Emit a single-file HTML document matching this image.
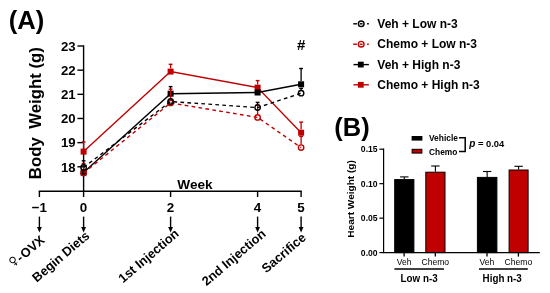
<!DOCTYPE html>
<html><head><meta charset="utf-8"><style>
html,body{margin:0;padding:0;background:#fff;}
svg{display:block;}
text{font-family:'Liberation Sans', sans-serif;fill:#000;}
</style></head><body>
<svg width="550" height="293" viewBox="0 0 550 293">
<rect width="550" height="293" fill="#fff"/>
<text x="26.5" y="28.6" font-size="25.6" font-weight="bold" text-anchor="middle">(A)</text>
<line x1="83.6" y1="45.3" x2="83.6" y2="191.2" stroke="#000" stroke-width="1.4"/>
<line x1="77.4" y1="166.8" x2="83.6" y2="166.8" stroke="#000" stroke-width="1.4"/>
<text x="75.6" y="171.5" font-size="13.2" font-weight="bold" text-anchor="end">18</text>
<line x1="77.4" y1="142.64" x2="83.6" y2="142.64" stroke="#000" stroke-width="1.4"/>
<text x="75.6" y="147.34" font-size="13.2" font-weight="bold" text-anchor="end">19</text>
<line x1="77.4" y1="118.48" x2="83.6" y2="118.48" stroke="#000" stroke-width="1.4"/>
<text x="75.6" y="123.18" font-size="13.2" font-weight="bold" text-anchor="end">20</text>
<line x1="77.4" y1="94.32" x2="83.6" y2="94.32" stroke="#000" stroke-width="1.4"/>
<text x="75.6" y="99.02" font-size="13.2" font-weight="bold" text-anchor="end">21</text>
<line x1="77.4" y1="70.16" x2="83.6" y2="70.16" stroke="#000" stroke-width="1.4"/>
<text x="75.6" y="74.86" font-size="13.2" font-weight="bold" text-anchor="end">22</text>
<line x1="77.4" y1="46.0" x2="83.6" y2="46.0" stroke="#000" stroke-width="1.4"/>
<text x="75.6" y="50.7" font-size="13.2" font-weight="bold" text-anchor="end">23</text>
<text transform="translate(41.2,179.2) rotate(-90)" font-size="16.8" font-weight="bold">Body<tspan dx="3.8"> Weight (g)</tspan></text>
<line x1="38.7" y1="191.2" x2="301.8" y2="191.2" stroke="#000" stroke-width="1.4"/>
<line x1="39.4" y1="191.2" x2="39.4" y2="197.0" stroke="#000" stroke-width="1.4"/>
<text x="39.4" y="211.9" font-size="13.4" font-weight="bold" text-anchor="middle">−1</text>
<line x1="39.4" y1="216.6" x2="39.4" y2="227.9" stroke="#000" stroke-width="1.4"/>
<path d="M37.0,226.9 L41.8,226.9 L39.4,232.6 Z" fill="#000"/>
<line x1="83.6" y1="191.2" x2="83.6" y2="197.0" stroke="#000" stroke-width="1.4"/>
<text x="83.6" y="211.9" font-size="13.4" font-weight="bold" text-anchor="middle">0</text>
<line x1="83.6" y1="216.6" x2="83.6" y2="227.9" stroke="#000" stroke-width="1.4"/>
<path d="M81.2,226.9 L86.0,226.9 L83.6,232.6 Z" fill="#000"/>
<line x1="170.6" y1="191.2" x2="170.6" y2="197.0" stroke="#000" stroke-width="1.4"/>
<text x="170.6" y="211.9" font-size="13.4" font-weight="bold" text-anchor="middle">2</text>
<line x1="170.6" y1="216.6" x2="170.6" y2="227.9" stroke="#000" stroke-width="1.4"/>
<path d="M168.2,226.9 L173.0,226.9 L170.6,232.6 Z" fill="#000"/>
<line x1="257.6" y1="191.2" x2="257.6" y2="197.0" stroke="#000" stroke-width="1.4"/>
<text x="257.6" y="211.9" font-size="13.4" font-weight="bold" text-anchor="middle">4</text>
<line x1="257.6" y1="216.6" x2="257.6" y2="227.9" stroke="#000" stroke-width="1.4"/>
<path d="M255.2,226.9 L260.0,226.9 L257.6,232.6 Z" fill="#000"/>
<line x1="301.1" y1="191.2" x2="301.1" y2="197.0" stroke="#000" stroke-width="1.4"/>
<text x="301.1" y="211.9" font-size="13.4" font-weight="bold" text-anchor="middle">5</text>
<line x1="301.1" y1="216.6" x2="301.1" y2="227.9" stroke="#000" stroke-width="1.4"/>
<path d="M298.7,226.9 L303.5,226.9 L301.1,232.6 Z" fill="#000"/>
<text x="195" y="188.7" font-size="13.6" font-weight="bold" text-anchor="middle">Week</text>
<text transform="translate(45.40,241.50) rotate(-40.5)" font-size="12.8" font-weight="bold" text-anchor="end"><tspan font-family="DejaVu Sans" font-weight="normal" font-size="11.6" dy="-2">♀</tspan><tspan dx="0.6" dy="2">-</tspan><tspan dx="1">OVX</tspan></text>
<text transform="translate(90.40,237.00) rotate(-40.5)" font-size="12.8" font-weight="bold" text-anchor="end">Begin Diets</text>
<text transform="translate(179.80,234.90) rotate(-40.5)" font-size="12.8" font-weight="bold" text-anchor="end">1st Injection</text>
<text transform="translate(266.60,235.10) rotate(-40.5)" font-size="12.8" font-weight="bold" text-anchor="end">2nd Injection</text>
<text transform="translate(306.90,238.80) rotate(-40.5)" font-size="12.8" font-weight="bold" text-anchor="end">Sacrifice</text>
<text x="301.1" y="49.6" font-size="15" font-weight="bold" text-anchor="middle">#</text>
<polyline points="83.60,151.60 170.60,71.60 257.60,87.60 301.10,132.70" fill="none" stroke="#c00000" stroke-width="1.4"/>
<line x1="83.6" y1="148.4" x2="83.6" y2="142.0" stroke="#c00000" stroke-width="1.3"/>
<line x1="81.7" y1="142.0" x2="85.5" y2="142.0" stroke="#c00000" stroke-width="1.4"/>
<rect x="80.6" y="148.6" width="6" height="6" fill="#c00000"/>
<line x1="170.6" y1="68.4" x2="170.6" y2="64.3" stroke="#c00000" stroke-width="1.3"/>
<line x1="168.7" y1="64.3" x2="172.5" y2="64.3" stroke="#c00000" stroke-width="1.4"/>
<rect x="167.6" y="68.6" width="6" height="6" fill="#c00000"/>
<line x1="257.6" y1="84.4" x2="257.6" y2="80.6" stroke="#c00000" stroke-width="1.3"/>
<line x1="255.7" y1="80.6" x2="259.5" y2="80.6" stroke="#c00000" stroke-width="1.4"/>
<rect x="254.6" y="84.6" width="6" height="6" fill="#c00000"/>
<line x1="301.1" y1="129.5" x2="301.1" y2="122.1" stroke="#c00000" stroke-width="1.3"/>
<line x1="299.2" y1="122.1" x2="303.0" y2="122.1" stroke="#c00000" stroke-width="1.4"/>
<rect x="298.1" y="129.7" width="6" height="6" fill="#c00000"/>
<polyline points="83.60,172.60 170.60,93.70 257.60,92.50 301.10,84.30" fill="none" stroke="#000" stroke-width="1.4"/>
<rect x="80.6" y="169.6" width="6" height="6" fill="#000"/>
<line x1="170.6" y1="90.5" x2="170.6" y2="86.6" stroke="#000" stroke-width="1.3"/>
<line x1="168.7" y1="86.6" x2="172.5" y2="86.6" stroke="#000" stroke-width="1.4"/>
<rect x="167.6" y="90.7" width="6" height="6" fill="#000"/>
<rect x="254.6" y="89.5" width="6" height="6" fill="#000"/>
<line x1="301.1" y1="81.1" x2="301.1" y2="68.5" stroke="#000" stroke-width="1.3"/>
<line x1="299.2" y1="68.5" x2="303.0" y2="68.5" stroke="#000" stroke-width="1.4"/>
<rect x="298.1" y="81.3" width="6" height="6" fill="#000"/>
<polyline points="83.60,173.00 170.60,102.90 257.60,117.40 301.10,147.60" fill="none" stroke="#c00000" stroke-width="1.4" stroke-dasharray="3.7,3.3"/>
<line x1="83.6" y1="169.8" x2="83.6" y2="163.6" stroke="#c00000" stroke-width="1.3"/>
<line x1="81.7" y1="163.6" x2="85.5" y2="163.6" stroke="#c00000" stroke-width="1.4"/>
<circle cx="83.6" cy="173.0" r="2.7" fill="none" stroke="#c00000" stroke-width="1.4"/>
<line x1="170.6" y1="99.7" x2="170.6" y2="89.2" stroke="#c00000" stroke-width="1.3"/>
<line x1="168.7" y1="89.2" x2="172.5" y2="89.2" stroke="#c00000" stroke-width="1.4"/>
<circle cx="170.6" cy="102.9" r="2.7" fill="none" stroke="#c00000" stroke-width="1.4"/>
<line x1="257.6" y1="114.2" x2="257.6" y2="104.6" stroke="#c00000" stroke-width="1.3"/>
<line x1="255.7" y1="104.6" x2="259.5" y2="104.6" stroke="#c00000" stroke-width="1.4"/>
<circle cx="257.6" cy="117.4" r="2.7" fill="none" stroke="#c00000" stroke-width="1.4"/>
<line x1="301.1" y1="144.4" x2="301.1" y2="136.4" stroke="#c00000" stroke-width="1.3"/>
<line x1="299.2" y1="136.4" x2="303.0" y2="136.4" stroke="#c00000" stroke-width="1.4"/>
<circle cx="301.1" cy="147.6" r="2.7" fill="none" stroke="#c00000" stroke-width="1.4"/>
<polyline points="83.60,167.40 170.60,101.50 257.60,107.60 301.10,93.20" fill="none" stroke="#000" stroke-width="1.4" stroke-dasharray="3.7,3.3"/>
<line x1="83.6" y1="164.2" x2="83.6" y2="160.8" stroke="#000" stroke-width="1.3"/>
<line x1="81.7" y1="160.8" x2="85.5" y2="160.8" stroke="#000" stroke-width="1.4"/>
<circle cx="83.6" cy="167.4" r="2.7" fill="none" stroke="#000" stroke-width="1.4"/>
<circle cx="170.6" cy="101.5" r="2.7" fill="none" stroke="#000" stroke-width="1.4"/>
<line x1="257.6" y1="104.4" x2="257.6" y2="102.4" stroke="#000" stroke-width="1.3"/>
<line x1="255.7" y1="102.4" x2="259.5" y2="102.4" stroke="#000" stroke-width="1.4"/>
<circle cx="257.6" cy="107.6" r="2.7" fill="none" stroke="#000" stroke-width="1.4"/>
<line x1="301.1" y1="90.0" x2="301.1" y2="88.4" stroke="#000" stroke-width="1.3"/>
<line x1="299.2" y1="88.4" x2="303.0" y2="88.4" stroke="#000" stroke-width="1.4"/>
<circle cx="301.1" cy="93.2" r="2.7" fill="none" stroke="#000" stroke-width="1.4"/>
<line x1="353.2" y1="23.8" x2="357.0" y2="23.8" stroke="#000" stroke-width="1.4"/>
<line x1="359.8" y1="23.8" x2="362.6" y2="23.8" stroke="#000" stroke-width="1.4"/>
<line x1="367.1" y1="23.8" x2="368.8" y2="23.8" stroke="#000" stroke-width="1.5"/>
<circle cx="361.2" cy="23.8" r="2.85" fill="none" stroke="#000" stroke-width="1.4"/>
<text x="377.3" y="27.7" font-size="12.0" font-weight="bold">Veh + Low n-3</text>
<line x1="353.2" y1="44.2" x2="357.0" y2="44.2" stroke="#c00000" stroke-width="1.4"/>
<line x1="359.8" y1="44.2" x2="362.6" y2="44.2" stroke="#c00000" stroke-width="1.4"/>
<line x1="367.1" y1="44.2" x2="368.8" y2="44.2" stroke="#c00000" stroke-width="1.5"/>
<circle cx="361.2" cy="44.2" r="2.85" fill="none" stroke="#c00000" stroke-width="1.4"/>
<text x="377.3" y="48.1" font-size="12.0" font-weight="bold">Chemo + Low n-3</text>
<line x1="353.5" y1="64.6" x2="368.9" y2="64.6" stroke="#000" stroke-width="1.4"/>
<rect x="357.9" y="61.7" width="5.8" height="5.8" fill="#000"/>
<text x="377.3" y="68.5" font-size="12.0" font-weight="bold">Veh + High n-3</text>
<line x1="353.5" y1="84.8" x2="368.9" y2="84.8" stroke="#c00000" stroke-width="1.4"/>
<rect x="357.9" y="81.9" width="5.8" height="5.8" fill="#c00000"/>
<text x="377.3" y="88.7" font-size="12.0" font-weight="bold">Chemo + High n-3</text>
<text x="352" y="136.3" font-size="25.5" font-weight="bold" text-anchor="middle">(B)</text>
<line x1="383.6" y1="148.6" x2="383.6" y2="252.6" stroke="#000" stroke-width="1.2"/>
<line x1="379.4" y1="252.6" x2="383.6" y2="252.6" stroke="#000" stroke-width="1.2"/>
<text x="377.6" y="255.6" font-size="8.6" font-weight="bold" text-anchor="end">0.00</text>
<line x1="379.4" y1="218.13" x2="383.6" y2="218.13" stroke="#000" stroke-width="1.2"/>
<text x="377.6" y="221.13" font-size="8.6" font-weight="bold" text-anchor="end">0.05</text>
<line x1="379.4" y1="183.67" x2="383.6" y2="183.67" stroke="#000" stroke-width="1.2"/>
<text x="377.6" y="186.67" font-size="8.6" font-weight="bold" text-anchor="end">0.10</text>
<line x1="379.4" y1="149.2" x2="383.6" y2="149.2" stroke="#000" stroke-width="1.2"/>
<text x="377.6" y="152.2" font-size="8.6" font-weight="bold" text-anchor="end">0.15</text>
<line x1="383.0" y1="252.6" x2="539.8" y2="252.6" stroke="#000" stroke-width="1.2"/>
<text transform="translate(353.7,198.9) rotate(-90)" font-size="8.9" font-weight="bold" text-anchor="middle" textLength="77.5" lengthAdjust="spacingAndGlyphs">Heart Weight (g)</text>
<line x1="404.3" y1="179.1" x2="404.3" y2="176.9" stroke="#000" stroke-width="1.1"/>
<line x1="400.1" y1="176.9" x2="408.5" y2="176.9" stroke="#000" stroke-width="1.1"/>
<rect x="394.7" y="179.6" width="19.2" height="73.0" fill="#000" stroke="#000" stroke-width="1"/>
<line x1="435.4" y1="171.7" x2="435.4" y2="166" stroke="#000" stroke-width="1.1"/>
<line x1="431.2" y1="166" x2="439.6" y2="166" stroke="#000" stroke-width="1.1"/>
<rect x="425.8" y="172.2" width="19.2" height="80.4" fill="#c00000" stroke="#000" stroke-width="1"/>
<line x1="487.15" y1="176.9" x2="487.15" y2="171.5" stroke="#000" stroke-width="1.1"/>
<line x1="482.95" y1="171.5" x2="491.35" y2="171.5" stroke="#000" stroke-width="1.1"/>
<rect x="477.4" y="177.4" width="19.5" height="75.2" fill="#000" stroke="#000" stroke-width="1"/>
<line x1="518.6" y1="169.5" x2="518.6" y2="166.3" stroke="#000" stroke-width="1.1"/>
<line x1="514.4" y1="166.3" x2="522.8" y2="166.3" stroke="#000" stroke-width="1.1"/>
<rect x="509.1" y="170.0" width="19.0" height="82.6" fill="#c00000" stroke="#000" stroke-width="1"/>
<line x1="404.1" y1="252.6" x2="404.1" y2="256.6" stroke="#000" stroke-width="1.3"/>
<text x="404.1" y="264.6" font-size="8.6" text-anchor="middle">Veh</text>
<line x1="435.3" y1="252.6" x2="435.3" y2="256.6" stroke="#000" stroke-width="1.3"/>
<text x="435.3" y="264.6" font-size="8.6" text-anchor="middle">Chemo</text>
<line x1="487" y1="252.6" x2="487" y2="256.6" stroke="#000" stroke-width="1.3"/>
<text x="487" y="264.6" font-size="8.6" text-anchor="middle">Veh</text>
<line x1="518.4" y1="252.6" x2="518.4" y2="256.6" stroke="#000" stroke-width="1.3"/>
<text x="518.4" y="264.6" font-size="8.6" text-anchor="middle">Chemo</text>
<line x1="394.4" y1="269.0" x2="443.9" y2="269.0" stroke="#000" stroke-width="1.4"/>
<line x1="479" y1="269.0" x2="527.8" y2="269.0" stroke="#000" stroke-width="1.4"/>
<text transform="translate(419.1,281.5) scale(1,1.1)" font-size="9.8" font-weight="bold" text-anchor="middle">Low n-3</text>
<text transform="translate(502.2,281.5) scale(1,1.1)" font-size="9.8" font-weight="bold" text-anchor="middle">High n-3</text>
<rect x="411.6" y="136" width="10.8" height="4.6" fill="#000"/>
<rect x="412.1" y="149.3" width="9.8" height="3.8" fill="#c00000" stroke="#000" stroke-width="1"/>
<text x="429" y="141.2" font-size="8.4" font-weight="bold">Vehicle</text>
<text x="429" y="154.6" font-size="8.4" font-weight="bold">Chemo</text>
<path d="M459,137.8 H465.2 V151.4 H459" fill="none" stroke="#000" stroke-width="1.5"/>
<text x="469.2" y="147.3" font-size="9.4" font-weight="bold"><tspan font-style="italic" font-size="10">p</tspan> = 0.04</text>
</svg>
</body></html>
